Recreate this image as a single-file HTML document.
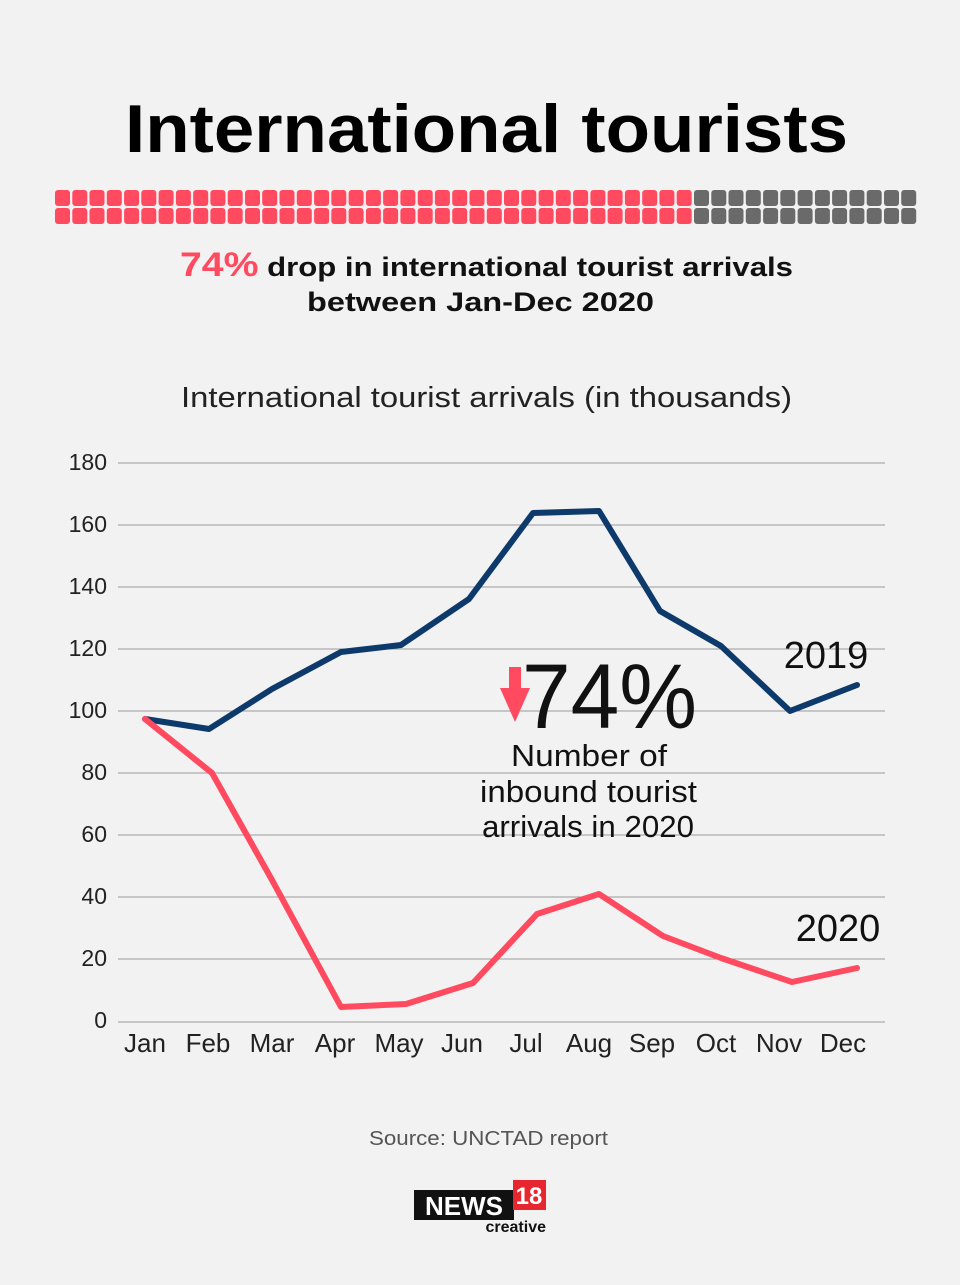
<!DOCTYPE html>
<html><head><meta charset="utf-8"><style>
body{margin:0;width:960px;height:1280px;background:#f2f2f2;font-family:"Liberation Sans",sans-serif;overflow:hidden}
</style></head><body>
<svg width="960" height="1280" viewBox="0 0 960 1280" xmlns="http://www.w3.org/2000/svg">
<rect width="960" height="1280" fill="#f2f2f2"/>
<text x="125" y="152" font-size="68" font-weight="bold" fill="#000" textLength="723" lengthAdjust="spacingAndGlyphs">International tourists</text>
<g id="sq"></g>
<text x="180" y="276" font-size="27" font-weight="bold" fill="#111" textLength="613" lengthAdjust="spacingAndGlyphs"><tspan fill="#ff4a60" font-size="34">74%</tspan> drop in international tourist arrivals</text>
<text x="307" y="311" font-size="27" font-weight="bold" fill="#111" textLength="347" lengthAdjust="spacingAndGlyphs">between Jan-Dec 2020</text>
<text x="181" y="407" font-size="29" fill="#222" textLength="611" lengthAdjust="spacingAndGlyphs">International tourist arrivals (in thousands)</text>
<g stroke="#999" stroke-width="1">
<line x1="118" x2="885" y1="463" y2="463"/><line x1="118" x2="885" y1="525" y2="525"/><line x1="118" x2="885" y1="587" y2="587"/><line x1="118" x2="885" y1="649" y2="649"/><line x1="118" x2="885" y1="711" y2="711"/><line x1="118" x2="885" y1="773" y2="773"/><line x1="118" x2="885" y1="835" y2="835"/><line x1="118" x2="885" y1="897" y2="897"/><line x1="118" x2="885" y1="959" y2="959"/><line x1="118" x2="885" y1="1022" y2="1022"/>
</g>
<g font-size="23" fill="#222" text-anchor="end">
<text x="107" y="470">180</text><text x="107" y="532">160</text><text x="107" y="594">140</text><text x="107" y="656">120</text><text x="107" y="718">100</text><text x="107" y="780">80</text><text x="107" y="842">60</text><text x="107" y="904">40</text><text x="107" y="966">20</text><text x="107" y="1028">0</text>
</g>
<g font-size="26" fill="#222" text-anchor="middle">
<text x="145" y="1052">Jan</text><text x="208" y="1052">Feb</text><text x="272" y="1052">Mar</text><text x="335" y="1052">Apr</text><text x="399" y="1052">May</text><text x="462" y="1052">Jun</text><text x="526" y="1052">Jul</text><text x="589" y="1052">Aug</text><text x="652" y="1052">Sep</text><text x="716" y="1052">Oct</text><text x="779" y="1052">Nov</text><text x="843" y="1052">Dec</text>
</g>
<polyline fill="none" stroke="#0e3a6b" stroke-width="6" stroke-linejoin="round" stroke-linecap="round" points="145,719 209,729 272,689 341,652 401,645 469,599 533,513 599,511 660,611 721,646 790,711 857,685"/>
<polyline fill="none" stroke="#ff4a60" stroke-width="6" stroke-linejoin="round" stroke-linecap="round" points="145,719 212,773 272,880 341,1007 406,1004 473,983 537,914 599,894 663,936 721,958 792,982 857,968"/>
<text x="826" y="668" text-anchor="middle" font-size="38" fill="#111">2019</text>
<text x="838" y="941" text-anchor="middle" font-size="38" fill="#111">2020</text>
<rect x="509" y="667" width="12" height="22" fill="#ff4a60"/>
<polygon points="500,688 530,688 515,722" fill="#ff4a60"/>
<text x="522" y="728" font-size="92" fill="#111" textLength="175" lengthAdjust="spacingAndGlyphs">74%</text>
<g font-size="31" fill="#111">
<text x="511" y="766" textLength="156" lengthAdjust="spacingAndGlyphs">Number of</text><text x="480" y="802" textLength="217" lengthAdjust="spacingAndGlyphs">inbound tourist</text><text x="482" y="837" textLength="212" lengthAdjust="spacingAndGlyphs">arrivals in 2020</text>
</g>
<text x="369" y="1145" font-size="20" fill="#555" textLength="239" lengthAdjust="spacingAndGlyphs">Source: UNCTAD report</text>
<rect x="414" y="1190" width="100" height="30" fill="#111"/>
<text x="464" y="1215" text-anchor="middle" font-size="26" font-weight="bold" fill="#fff">NEWS</text>
<rect x="513" y="1180" width="33" height="30" fill="#e8262f"/>
<text x="529" y="1204" text-anchor="middle" font-size="24" font-weight="bold" fill="#fff">18</text>
<text x="546" y="1232" text-anchor="end" font-size="16" font-weight="bold" fill="#111">creative</text>
</svg>
<script>
var g=document.getElementById('sq'),s='';
for(var r=0;r<2;r++)for(var i=0;i<50;i++){var x=55+i*17.27;var y=r?208:190;
s+='<rect x="'+x.toFixed(1)+'" y="'+y+'" width="15" height="16" rx="3" fill="'+(i<37?'#ff4a60':'#6a6a6a')+'"/>';}
g.innerHTML=s;
</script>
</body></html>
